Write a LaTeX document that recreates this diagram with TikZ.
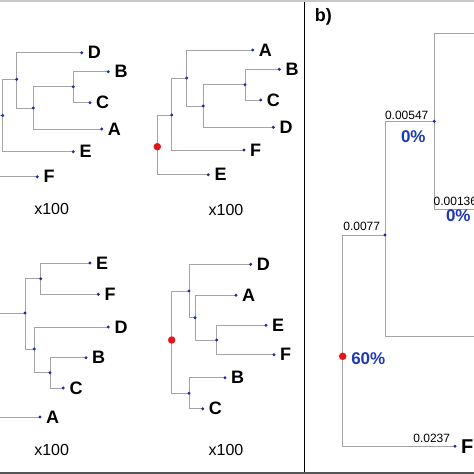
\documentclass[tikz,border=0pt]{standalone}
\usepackage{fontspec}
\setmainfont{Liberation Sans}
\definecolor{edgegray}{HTML}{A4A4A4}
\definecolor{dotblue}{HTML}{1A2AA8}
\definecolor{txtblue}{HTML}{1E3AB4}
\definecolor{dotred}{HTML}{E8141C}
\definecolor{topgray}{HTML}{C8C8C8}
\definecolor{botgray}{HTML}{555555}
\pgfdeclarelayer{edges}
\pgfsetlayers{edges,main}
\tikzset{
 branch/.style={draw=edgegray, line width=1pt},
 bdot/.style={circle, fill=dotblue, inner sep=0pt, minimum size=3.3pt},
 rdot/.style={circle, fill=dotred, inner sep=0pt, minimum size=7.5pt},
 taxon/.style={font=\fontsize{18}{18}\selectfont\bfseries, inner sep=0pt, anchor=west, xshift=6pt},
 mult/.style={font=\fontsize{16}{16}\selectfont, inner sep=0pt},
 blen/.style={font=\fontsize{12}{12}\selectfont, inner sep=0pt},
 pct/.style={font=\fontsize{17}{17}\selectfont\bfseries, text=txtblue, inner sep=0pt},
}
\begin{document}
\begin{tikzpicture}[x=1pt,y=-1pt]
\useasboundingbox (0,0) rectangle (474,474);
\clip (0,0) rectangle (474,474);
\begin{pgfonlayer}{edges}
\fill[white] (0,0) rectangle (474,474);
\end{pgfonlayer}
% borders
\fill[topgray] (0,0) rectangle (474,2.2);
\fill[botgray] (0,471.5) rectangle (474,474);
\draw[black, line width=1pt] (304.4,2) -- (304.4,471.5);

% ---------- panel 1 ----------
\node[bdot] (D1) at (81.7,52.7) {};
\node[bdot] (B1) at (108.3,71.7) {};
\node[bdot] (C1) at (90,102.7) {};
\node[bdot] (A1) at (101.7,129) {};
\node[bdot] (E1) at (73.3,151.7) {};
\node[bdot] (F1) at (37.3,176.7) {};
\node[taxon] (D1l) at (D1) {D};
\node[taxon] (B1l) at (B1) {B};
\node[taxon] (C1l) at (C1) {C};
\node[taxon] (A1l) at (A1) {A};
\node[taxon] (E1l) at (E1) {E};
\node[taxon] (F1l) at (F1) {F};
\node[bdot] (bc1) at (73.3,86.7) {};
\node[bdot] (n1a) at (33.3,108) {};
\node[bdot] (n1b) at (16.7,79.3) {};
\node[bdot] (n1c) at (2.7,115.5) {};
\coordinate (r1) at (-12,146);
\node[mult] (m1) at (51.7,209.3) {x100};

% ---------- panel 2 ----------
\node[bdot] (A2) at (252.7,50) {};
\node[bdot] (B2) at (279.3,69.3) {};
\node[bdot] (C2) at (260.7,100) {};
\node[bdot] (D2) at (273.3,127.3) {};
\node[bdot] (F2) at (244,150) {};
\node[bdot] (E2) at (208.3,174.7) {};
\node[taxon] (A2l) at (A2) {A};
\node[taxon] (B2l) at (B2) {B};
\node[taxon] (C2l) at (C2) {C};
\node[taxon] (D2l) at (D2) {D};
\node[taxon] (F2l) at (F2) {F};
\node[taxon] (E2l) at (E2) {E};
\node[bdot] (bc2) at (245,84.7) {};
\node[bdot] (n2a) at (203.3,106) {};
\node[bdot] (n2b) at (186.7,78) {};
\node[bdot] (n2c) at (171.7,115) {};
\node[rdot] (r2) at (157.3,146.7) {};
\node[mult] (m2) at (226,210) {x100};

% ---------- panel 3 ----------
\node[bdot] (E3) at (90,263) {};
\node[bdot] (F3) at (98.3,294.3) {};
\node[bdot] (D3) at (108.3,327) {};
\node[bdot] (B3) at (86,357.7) {};
\node[bdot] (C3) at (63.3,388) {};
\node[bdot] (A3) at (40,417) {};
\node[taxon] (E3l) at (E3) {E};
\node[taxon] (F3l) at (F3) {F};
\node[taxon] (D3l) at (D3) {D};
\node[taxon] (B3l) at (B3) {B};
\node[taxon] (C3l) at (C3) {C};
\node[taxon] (A3l) at (A3) {A};
\node[bdot] (ef3) at (40.7,278.7) {};
\node[bdot] (bc3) at (50,372.8) {};
\node[bdot] (dbc3) at (34.3,349) {};
\node[bdot] (n3) at (25,313) {};
\coordinate (r3) at (-12,365);
\node[mult] (m3) at (51.7,449.7) {x100};

% ---------- panel 4 ----------
\node[bdot] (D4) at (250.7,264.3) {};
\node[bdot] (A4) at (236,295.3) {};
\node[bdot] (E4) at (266,325.3) {};
\node[bdot] (F4) at (274,354.7) {};
\node[bdot] (B4) at (225,377.7) {};
\node[bdot] (C4) at (202.7,408.7) {};
\node[taxon] (D4l) at (D4) {D};
\node[taxon] (A4l) at (A4) {A};
\node[taxon] (E4l) at (E4) {E};
\node[taxon] (F4l) at (F4) {F};
\node[taxon] (B4l) at (B4) {B};
\node[taxon] (C4l) at (C4) {C};
\node[bdot] (ef4) at (216.7,340) {};
\node[bdot] (aef4) at (195,317.7) {};
\node[bdot] (daef4) at (189,291) {};
\node[bdot] (bc4) at (189,393.2) {};
\node[rdot] (r4) at (171.7,340) {};
\node[mult] (m4) at (226,450.3) {x100};

% ---------- panel b ----------
\node[font=\fontsize{18}{18}\selectfont\bfseries, inner sep=0pt] (lb) at (323.3,16.7) {b)};
\coordinate (tb1) at (490,33.3);
\coordinate (tb2) at (490,209.3);
\coordinate (tb3) at (490,336);
\node[bdot] (pb1) at (434.3,121.3) {};
\node[bdot] (pb2) at (385,235) {};
\node[rdot] (rb) at (342.7,356.3) {};
\node[bdot] (Fb) at (455,446.3) {};
\node[font=\fontsize{20}{20}\selectfont\bfseries, inner sep=0pt, anchor=west, xshift=6pt] (Fbl) at (Fb) {F};
\node[blen] (l547) at (406.7,115) {0.00547};
\node[pct] (p547) at (413.3,136.7) {0\%};
\node[blen] (l77) at (361.7,226.7) {0.0077};
\node[blen, anchor=west] (l136) at (433.5,201.7) {0.00136};
\node[pct] (p136) at (458.3,216) {0\%};
\node[pct] (p60) at (368.3,358.7) {60\%};
\node[blen] (l237) at (431.7,438) {0.0237};

% ---------- branches ----------
\begin{pgfonlayer}{edges}
\draw[branch] (bc1.center) |- (B1.center);
\draw[branch] (bc1.center) |- (C1.center);
\draw[branch] (n1a.center) |- (bc1.center);
\draw[branch] (n1a.center) |- (A1.center);
\draw[branch] (n1b.center) |- (D1.center);
\draw[branch] (n1b.center) |- (n1a.center);
\draw[branch] (n1c.center) |- (n1b.center);
\draw[branch] (n1c.center) |- (E1.center);
\draw[branch] (r1) |- (n1c.center);
\draw[branch] (r1) |- (F1.center);

\draw[branch] (bc2.center) |- (B2.center);
\draw[branch] (bc2.center) |- (C2.center);
\draw[branch] (n2a.center) |- (bc2.center);
\draw[branch] (n2a.center) |- (D2.center);
\draw[branch] (n2b.center) |- (A2.center);
\draw[branch] (n2b.center) |- (n2a.center);
\draw[branch] (n2c.center) |- (n2b.center);
\draw[branch] (n2c.center) |- (F2.center);
\draw[branch] (r2.center) |- (n2c.center);
\draw[branch] (r2.center) |- (E2.center);

\draw[branch] (ef3.center) |- (E3.center);
\draw[branch] (ef3.center) |- (F3.center);
\draw[branch] (bc3.center) |- (B3.center);
\draw[branch] (bc3.center) |- (C3.center);
\draw[branch] (dbc3.center) |- (D3.center);
\draw[branch] (dbc3.center) |- (bc3.center);
\draw[branch] (n3.center) |- (ef3.center);
\draw[branch] (n3.center) |- (dbc3.center);
\draw[branch] (r3) |- (n3.center);
\draw[branch] (r3) |- (A3.center);

\draw[branch] (ef4.center) |- (E4.center);
\draw[branch] (ef4.center) |- (F4.center);
\draw[branch] (aef4.center) |- (A4.center);
\draw[branch] (aef4.center) |- (ef4.center);
\draw[branch] (daef4.center) |- (D4.center);
\draw[branch] (daef4.center) |- (aef4.center);
\draw[branch] (bc4.center) |- (B4.center);
\draw[branch] (bc4.center) |- (C4.center);
\draw[branch] (r4.center) |- (daef4.center);
\draw[branch] (r4.center) |- (bc4.center);

\draw[branch] (pb1.center) |- (tb1);
\draw[branch] (pb1.center) |- (tb2);
\draw[branch] (pb2.center) |- (pb1.center);
\draw[branch] (pb2.center) |- (tb3);
\draw[branch] (rb.center) |- (pb2.center);
\draw[branch] (rb.center) |- (Fb.center);
\end{pgfonlayer}
\end{tikzpicture}
\end{document}
